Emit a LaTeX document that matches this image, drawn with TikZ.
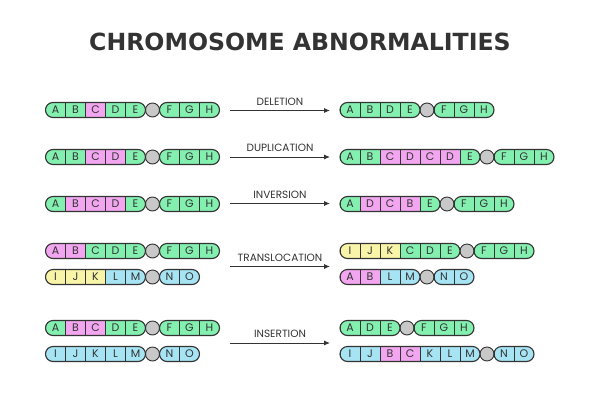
\documentclass[tikz,border=0pt]{standalone}
\usepackage{fontspec}
\setmainfont{DejaVu Sans}
\newfontfamily\oplabelfont{Poppins}
\usepackage{tikz}
\usetikzlibrary{arrows.meta}

\definecolor{ink}{HTML}{333333}
\definecolor{gn}{HTML}{84F0B0}
\definecolor{pk}{HTML}{F3A6F0}
\definecolor{yl}{HTML}{F8F4A8}
\definecolor{bl}{HTML}{A6E4F4}
\definecolor{cen}{HTML}{C8C8C8}

% one arm: prefix, x, y, number of cells, list letter/colour
\newcommand{\chromarm}[5]{%
  \begin{scope}
    \clip[rounded corners=7.5pt] (#2,#3-7.5) rectangle ++(20*#4,15);
    \foreach \lt/\cl [count=\i] in {#5}
      \node[cell, fill=\cl] (#1-\i) at (#2+20*\i-10,#3) {\lt};
  \end{scope}
  \draw[armline] (#2,#3-7.5) rectangle ++(20*#4,15);
}
% whole chromosome: prefix, x, y, n1, arm1, n2, arm2
\newcommand{\chromo}[7]{%
  \node[centro] (#1-c) at (#2+20*#4+7,#3) {};
  \chromarm{#1-p}{#2}{#3}{#4}{#5}
  \chromarm{#1-q}{#2+20*#4+14}{#3}{#6}{#7}
}

\begin{document}
\begin{tikzpicture}[
        x=1pt, y=-1pt,
        title/.style={font=\fontsize{23.6}{27}\selectfont\bfseries, text=ink},
        cell/.style={draw=ink, line width=0.9pt, minimum width=20pt, minimum height=15pt, inner sep=0pt, text=ink, font=\oplabelfont\fontsize{11}{12}\selectfont},
        armline/.style={draw=ink, line width=1.1pt, rounded corners=7.5pt},
        centro/.style={circle, draw=ink, fill=cen, line width=0.9pt, minimum size=14pt, inner sep=0pt},
        arrow/.style={-{Latex[length=6pt,width=5pt]}, ink, line width=0.9pt},
        op/.style={above=1.5pt, text=ink, font=\oplabelfont\fontsize{10.5}{12}\selectfont}
    ]
    \fill[white] (0,0) rectangle (600,400);
    \useasboundingbox (0,0) rectangle (600,400);

    \node[title] (title) at (300,42) {CHROMOSOME ABNORMALITIES};

    % deletion
    \chromo{dl}{45.5}{110}{5}{A/gn,B/gn,C/pk,D/gn,E/gn}{3}{F/gn,G/gn,H/gn}
    \chromo{dr}{340}{110}{4}{A/gn,B/gn,D/gn,E/gn}{3}{F/gn,G/gn,H/gn}
    % duplication
    \chromo{ul}{45.5}{157}{5}{A/gn,B/gn,C/pk,D/pk,E/gn}{3}{F/gn,G/gn,H/gn}
    \chromo{ur}{340}{157}{7}{A/gn,B/gn,C/pk,D/pk,C/pk,D/pk,E/gn}{3}{F/gn,G/gn,H/gn}
    % inversion
    \chromo{il}{45.5}{204}{5}{A/gn,B/pk,C/pk,D/pk,E/gn}{3}{F/gn,G/gn,H/gn}
    \chromo{ir}{340}{204}{5}{A/gn,D/pk,C/pk,B/pk,E/gn}{3}{F/gn,G/gn,H/gn}
    % translocation
    \chromo{tl1}{45.5}{251}{5}{A/pk,B/pk,C/gn,D/gn,E/gn}{3}{F/gn,G/gn,H/gn}
    \chromo{tl2}{45.5}{277}{5}{I/yl,J/yl,K/yl,L/bl,M/bl}{2}{N/bl,O/bl}
    \chromo{tr1}{340}{251}{6}{I/yl,J/yl,K/yl,C/gn,D/gn,E/gn}{3}{F/gn,G/gn,H/gn}
    \chromo{tr2}{340}{277}{4}{A/pk,B/pk,L/bl,M/bl}{2}{N/bl,O/bl}
    % insertion
    \chromo{sl1}{45.5}{328}{5}{A/gn,B/pk,C/pk,D/gn,E/gn}{3}{F/gn,G/gn,H/gn}
    \chromo{sl2}{45.5}{354}{5}{I/bl,J/bl,K/bl,L/bl,M/bl}{2}{N/bl,O/bl}
    \chromo{sr1}{340}{328}{3}{A/gn,D/gn,E/gn}{3}{F/gn,G/gn,H/gn}
    \chromo{sr2}{340}{354}{7}{I/bl,J/bl,B/pk,C/pk,K/bl,L/bl,M/bl}{2}{N/bl,O/bl}

    \coordinate (del-s) at (230,110.5);
    \coordinate (del-e) at (330,110.5);
    \coordinate (dup-s) at (230,157);
    \coordinate (dup-e) at (330,157);
    \coordinate (inv-s) at (230,203.5);
    \coordinate (inv-e) at (330,203.5);
    \coordinate (tra-s) at (230,266.5);
    \coordinate (tra-e) at (330,266.5);
    \coordinate (ins-s) at (230,343);
    \coordinate (ins-e) at (330,343);

    \draw[arrow] (del-s) -- node[op] {DELETION} (del-e);
    \draw[arrow] (dup-s) -- node[op] {DUPLICATION} (dup-e);
    \draw[arrow] (inv-s) -- node[op] {INVERSION} (inv-e);
    \draw[arrow] (tra-s) -- node[op] {TRANSLOCATION} (tra-e);
    \draw[arrow] (ins-s) -- node[op] {INSERTION} (ins-e);
\end{tikzpicture}
\end{document}
